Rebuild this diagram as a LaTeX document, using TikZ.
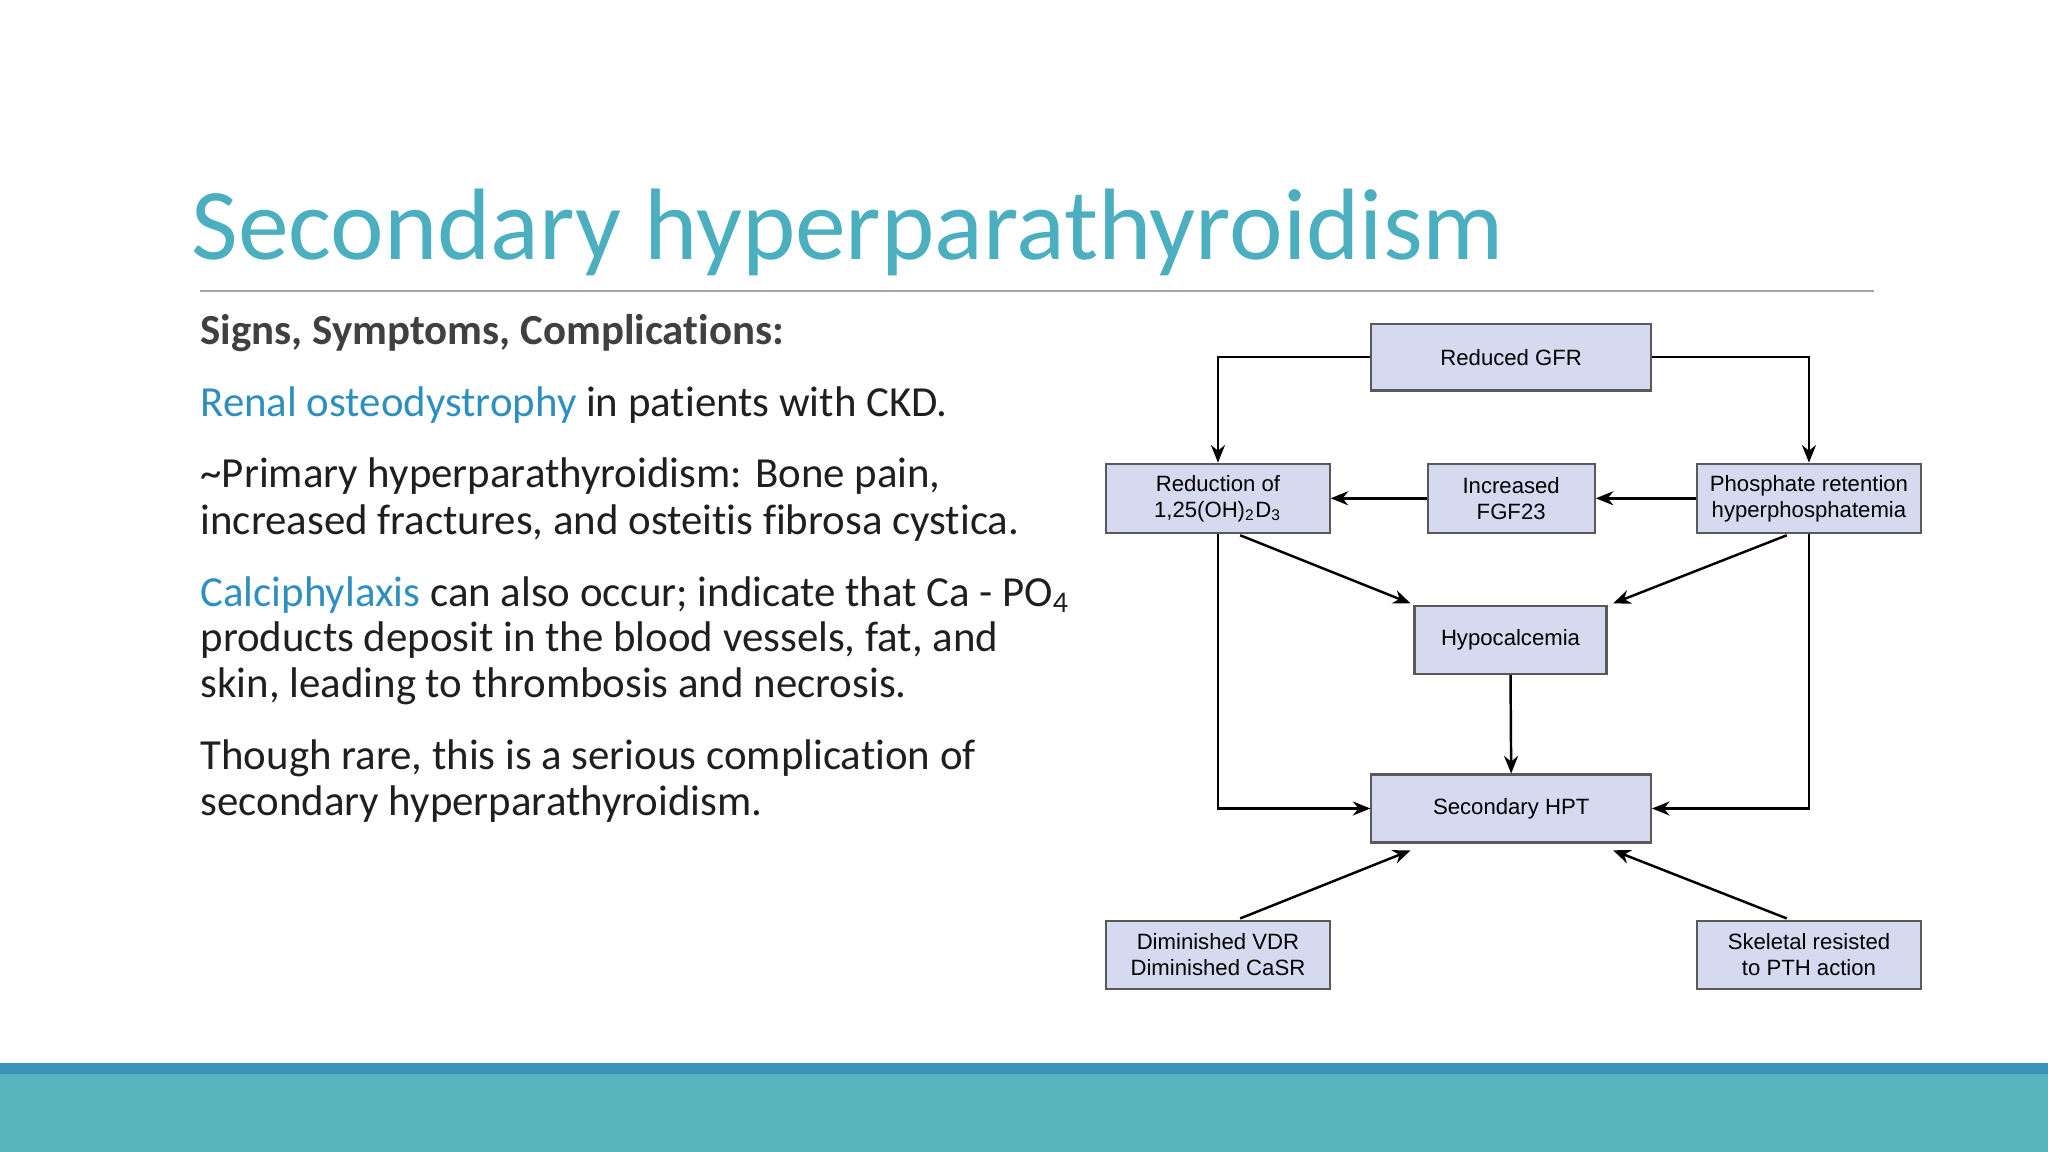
\documentclass[tikz,border=0pt]{standalone}
\usepackage{fontspec}
\setmainfont{Carlito}[Ligatures=NoCommon]
\newfontfamily\diafont{Liberation Sans}
\usetikzlibrary{arrows.meta}
\definecolor{titlec}{HTML}{4BAFC0}
\definecolor{linkc}{HTML}{2E8FBF}
\definecolor{boxf}{HTML}{D6DAF0}
\definecolor{barA}{HTML}{3A93B8}
\definecolor{barB}{HTML}{58B5BE}
\tikzset{
 bx/.style={draw=black!65,fill=boxf,line width=0.6pt,font=\diafont\fontsize{6.3}{7.4}\selectfont,align=center,inner sep=0pt},
 ar/.style={-{Stealth[length=5pt,width=4pt]},line width=0.7pt},
 body/.style={anchor=base west,inner sep=0pt,font=\fontsize{12.2}{14}\selectfont,text=black!88}
}
\begin{document}
\begin{tikzpicture}[x=0.013061cm,y=-0.013061cm]
\useasboundingbox (0,0) rectangle (1568,882);
\fill[barA] (0,814) rectangle (1568,822);
\fill[barB] (0,822) rectangle (1568,882);
\draw[black!35,line width=0.5pt] (153,223) -- (1435,223);
\node[anchor=base west,inner sep=0pt,text=titlec,font=\fontsize{28.9}{34}\selectfont] (title) at (146,199) {Secondary hyperparathyroidism};
\node[body,font=\bfseries\fontsize{12.2}{14}\selectfont,text=black!75] (t1) at (153,264) {Signs, Symptoms, Complications:};
\node[body] (t2) at (153,319) {\textcolor{linkc}{Renal osteodystrophy} in patients with CKD.};
\node[body] (t3) at (153,373) {\char"007EPrimary hyperparathyroidism: Bone pain,};
\node[body] (t4) at (153,409) {increased fractures, and osteitis fibrosa cystica.};
\node[body] (t5) at (153,464) {\textcolor{linkc}{Calciphylaxis} can also occur; indicate that Ca - PO\textsubscript{4}};
\node[body] (t6) at (153,499) {products deposit in the blood vessels, fat, and};
\node[body] (t7) at (153,534) {skin, leading to thrombosis and necrosis.};
\node[body] (t8) at (153,589) {Though rare, this is a serious complication of};
\node[body] (t9) at (153,624) {secondary hyperparathyroidism.};
% boxes
\node[bx,minimum width={214*0.013061cm},minimum height={51*0.013061cm}] (gfr) at (1157,273.5) {Reduced GFR};
\node[bx,minimum width={171*0.013061cm},minimum height={53*0.013061cm}] (red) at (932.5,381.5) {Reduction of\\1,25(OH)\textsubscript{2}D\textsubscript{3}};
\node[bx,minimum width={128*0.013061cm},minimum height={53*0.013061cm}] (fgf) at (1157,381.5) {Increased\\FGF23};
\node[bx,minimum width={172*0.013061cm},minimum height={53*0.013061cm}] (pho) at (1385,381.5) {Phosphate retention\\hyperphosphatemia};
\node[bx,minimum width={147*0.013061cm},minimum height={52*0.013061cm}] (hyp) at (1156.5,490) {Hypocalcemia};
\node[bx,minimum width={214*0.013061cm},minimum height={52*0.013061cm}] (hpt) at (1157,619) {Secondary HPT};
\node[bx,minimum width={171*0.013061cm},minimum height={52*0.013061cm}] (vdr) at (932.5,731) {Diminished VDR\\Diminished CaSR};
\node[bx,minimum width={172*0.013061cm},minimum height={52*0.013061cm}] (skl) at (1385,731) {Skeletal resisted\\to PTH action};
% arrows
\draw[ar] (gfr.west) -| (red.north);
\draw[ar] (gfr.east) -| (pho.north);
\draw[ar] (pho.west) -- (fgf.east);
\draw[ar] (fgf.west) -- (red.east);
\draw[ar] (red.south) ++(17,1) -- (1080,462);
\draw[ar] (pho.south) ++(-17,1) -- (1235,462);
\draw[ar] (hyp.south) -- (hpt.north);
\draw[ar] (red.south) |- (hpt.west);
\draw[ar] (pho.south) |- (hpt.east);
\draw[ar] (vdr.north) ++(17,-1) -- (1080,651);
\draw[ar] (skl.north) ++(-17,-1) -- (1235,651);
\end{tikzpicture}
\end{document}
